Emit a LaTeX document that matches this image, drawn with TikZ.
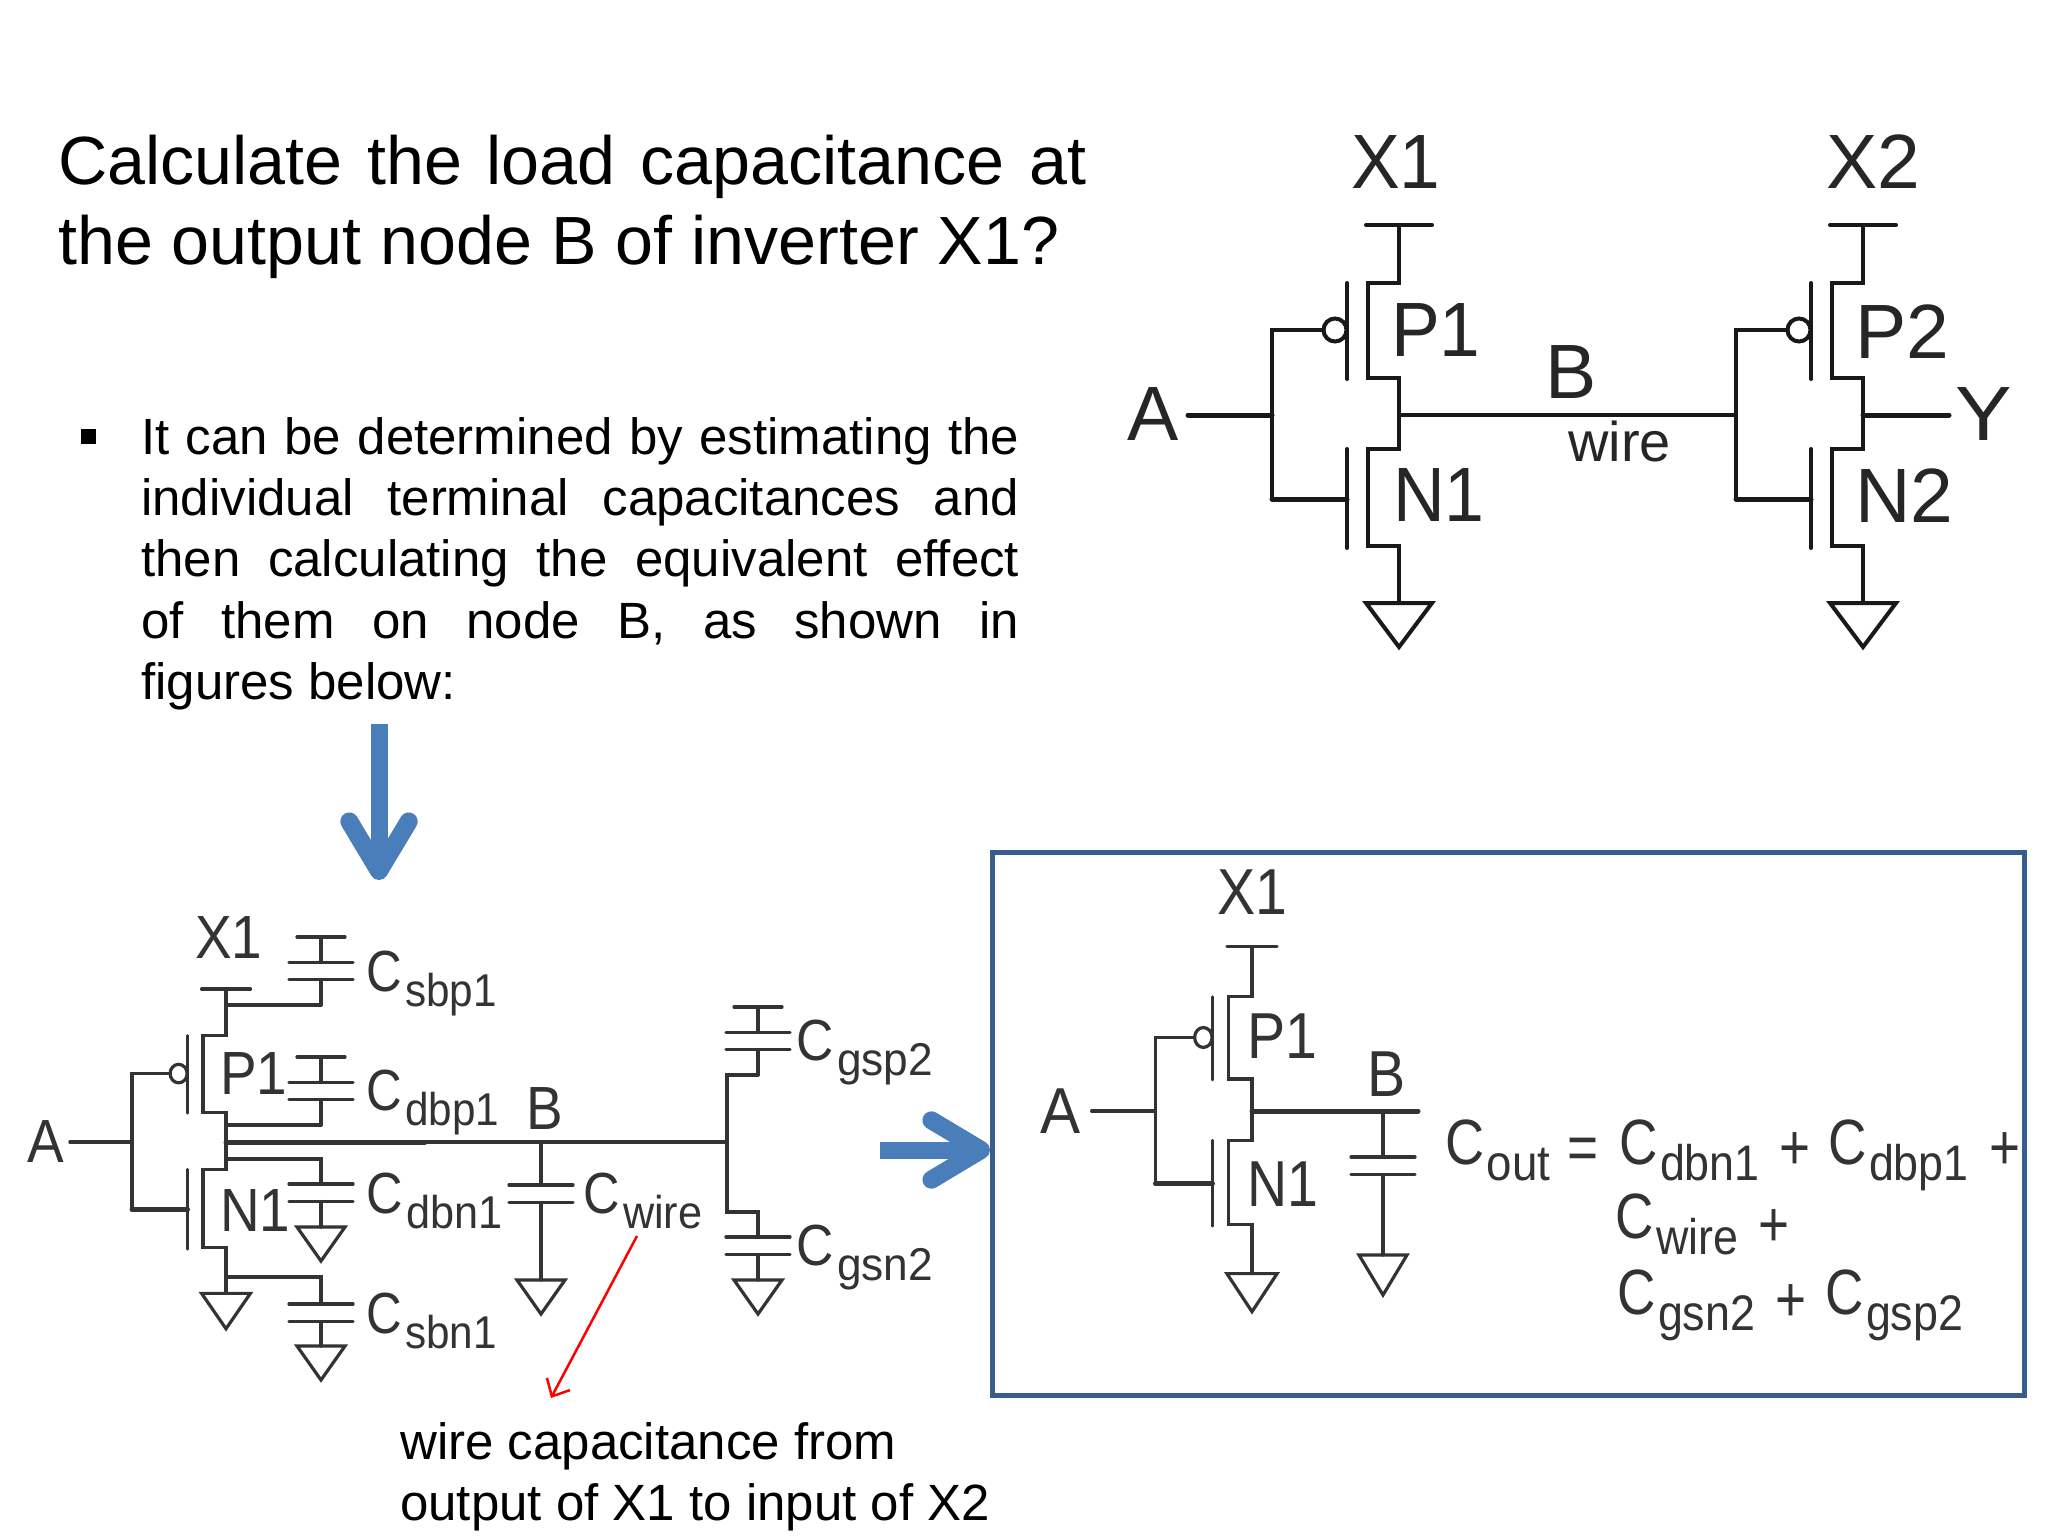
\documentclass[tikz,border=0pt]{standalone}
\usepackage{fontspec}
\setmainfont{Liberation Sans}
\usetikzlibrary{arrows.meta}
\definecolor{barblue}{HTML}{4A7EBB}
\definecolor{boxblue}{HTML}{385D8A}
\definecolor{ink}{HTML}{333333}
\def\fs#1{\fontsize{#1}{#1}\selectfont}

\begin{document}
\begin{tikzpicture}[x=1pt,y=-1pt]
\def\csub#1{\fs{58}C\kern4pt\raisebox{-15pt}{\scalebox{1.08}[1]{\fs{46}#1}}}
\def\cbox#1{\fs{64}C\kern3pt\raisebox{-16pt}{\scalebox{1.08}[1]{\fs{50}#1}}}
\tikzstyle{wire}=[draw=ink,line width=3.2pt,line cap=round,line join=miter];
\tikzstyle{thick wire}=[wire,line width=5pt];
\tikzstyle{lab}=[anchor=base west,inner sep=0pt];
\tikzstyle{bigl}=[lab,font=\fs{77},text=black!85,xscale=.95];
\tikzstyle{midl}=[lab,font=\fs{61},text=ink,xscale=.9];
\tikzstyle{boxl}=[lab,font=\fs{65},text=ink,xscale=.88];
\tikzstyle{capl}=[lab,text=ink,xscale=.85];
\tikzstyle{eql}=[lab,text=ink,xscale=.83];
\tikzstyle{para}=[anchor=north west,inner sep=0pt,align=justify];
\tikzstyle{blue}=[draw=barblue,line width=17pt,-{Straight Barb[length=49.6pt,width=59.4pt,line width=18pt,round]}];
\tikzstyle{red}=[draw=red,line width=2.5pt,-{Straight Barb[length=14pt,width=26pt]}];

% one inverter: name, output x, y, xscale, yscale
\def\inv#1#2#3#4#5{
\begin{scope}[shift={(#2,#3)},xscale=#4,yscale=#5]
\coordinate (#1o) at (0,0);
\coordinate (#1a) at (-211,0);
\coordinate (#1g) at (-127,0);
\coordinate (#1v) at (0,-190);
\coordinate (#1e) at (0,188);
\draw [wire] (-33,-190) -- (33,-190);
\draw [wire] (#1v) -- (0,-132) -- (-31,-132) -- (-31,-37) -- (0,-37) -- (#1o)
  -- (0,34) -- (-31,34) -- (-31,131) -- (0,131) -- (#1e);
\draw [wire] (-33,188) -- (33,188) -- (0,232) -- cycle;
\draw [wire] (-52,-132) -- (-52,-36);
\draw [wire] (-52,34) -- (-52,133);
\draw [wire] (-64,-85) circle (11.5);
\draw [wire] (-75.5,-85) -- (-127,-85) -- (-127,84);
\draw [thick wire] (-127,84) -- (-52,84);
\end{scope}
}
% capacitor with a top bar: name, x, y of bar
\def\capup#1#2#3{
\coordinate (#1a) at (#2,#3);
\coordinate (#1b) at (#2,#3+25.5);
\coordinate (#1c) at (#2,#3+42.5);
\coordinate (#1d) at (#2,#3+68);
\draw [wire] ([xshift=-24pt]#1a) -- ([xshift=24pt]#1a);
\draw [wire] ([xshift=-32pt]#1b) -- ([xshift=32pt]#1b);
\draw [wire] ([xshift=-32pt]#1c) -- ([xshift=32pt]#1c);
\draw [wire] (#1a) -- (#1b);
\draw [wire] (#1c) -- (#1d);
}
% capacitor to ground: name, x, y of plate, y of triangle, height of triangle
\def\capdn#1#2#3#4#5{
\coordinate (#1a) at (#2,#3);
\coordinate (#1b) at (#2,#3+17.5);
\coordinate (#1c) at (#2,#4);
\draw [wire] ([xshift=-32pt]#1a) -- ([xshift=32pt]#1a);
\draw [wire] ([xshift=-32pt]#1b) -- ([xshift=32pt]#1b);
\draw [wire] (#1b) -- (#1c);
\draw [wire] ([xshift=-24pt]#1c) -- ([xshift=24pt]#1c) -- ([yshift=-#5pt]#1c) -- cycle;
}

\path [fill=white,use as bounding box] (0,0) rectangle (2048,1536);

\node [para,text width=1028pt,font=\fontsize{68.2}{80}\selectfont] (v1) at (58,135)
  {Calculate the load capacitance at\linebreak the output node B of inverter X1?};
\node [fill=black,minimum size=15pt,inner sep=0pt] (v2) at (88.5,436) {};
\node [para,text width=878pt,font=\fontsize{51}{61.3}\selectfont] (v3) at (141,417)
  {It can be determined by estimating the\linebreak individual terminal capacitances and\linebreak
  then calculating the equivalent effect\linebreak of them on node B, as shown in\linebreak figures below:};

%%

\begin{scope}[wire/.style={draw=black!90,line width=4pt,line cap=round,line join=miter}]
\inv{x1}{1399}{415}{1}{1}
\inv{x2}{1863}{415}{1}{1}
\end{scope}
\node [bigl] (v4) at (1351,189) {X1};
\node [bigl,xscale=1.05] (v5) at (1826,189) {X2};
\node [bigl] (v6) at (1391,356) {P1};
\node [bigl,xscale=.98] (v7) at (1393,521) {N1};
\node [bigl,xscale=1.05] (v8) at (1855,358) {P2};
\node [bigl,xscale=1.05] (v9) at (1855,522) {N2};
\node [bigl,xscale=1.05] (v10) at (1127,440) {A};
\node [bigl,xscale=1.05] (v11) at (1545,398) {B};
\node [bigl,xscale=1.16] (v12) at (1955,440) {Y};
\node [lab,font=\fs{56},text=black!85] (v13) at (1568,461) {wire};
\coordinate (v14) at (1949,415);
\draw [thick wire,draw=black!90] (x1a) -- (x1g);
\draw [wire,draw=black!90,line width=4pt] (x1o) -- (x2g);
\draw [thick wire,draw=black!90] (x2o) -- (v14);

%%

\inv{x3}{226}{1142}{.74}{.805}
\node [midl] (v15) at (195,958) {X1};
\node [midl] (v16) at (220,1094) {P1};
\node [midl] (v17) at (220,1231) {N1};
\node [midl,xscale=1] (v18) at (27,1162) {A};
\node [midl] (v19) at (526,1129) {B};
\node [capl] (v20) at (366,991) {\csub{sbp1}};
\node [capl] (v21) at (366,1110) {\csub{dbp1}};
\node [capl,xscale=1.024] (v22) at (366,1213) {\csub{dbn1}};
\node [capl] (v23) at (366,1333) {\csub{sbn1}};
\node [capl,xscale=1.024] (v24) at (583,1213) {\csub{wire}};
\node [capl,xscale=1.047] (v25) at (796,1060) {\csub{gsp2}};
\node [capl,xscale=1.047] (v26) at (796,1265) {\csub{gsn2}};
\draw [wire] (x3a) -- (x3g);
\coordinate (v27) at (425,1142);
\coordinate (v28) at (727,1142);
\draw [thick wire] (x3o) -- (v27);
\draw [wire] (v27) -- (v28);

\capup{c1}{321}{937}
\coordinate (v29) at (226,1005);
\draw [wire] (c1d) -- (v29);
\capup{c2}{321}{1057}
\coordinate (v30) at (226,1125);
\draw [wire] (c2d) -- (v30);
\capdn{c3}{321}{1184}{1227}{34}
\coordinate (v31) at (226,1159);
\draw [wire] (v31) -- (v31 -| c3a) -- (c3a);
\capdn{c4}{321}{1304}{1346}{34}
\coordinate (v32) at (226,1277);
\draw [wire] (v32) -- (v32 -| c4a) -- (c4a);
\capdn{c5}{541}{1185}{1280}{34}
\coordinate (v33) at (541,1142);
\draw [wire] (v33) -- (c5a);
\capup{c6}{758}{1007}
\draw [wire] (c6d) -- (c6d -| v28) -- (v28);
\capdn{c7}{758}{1237}{1280}{34}
\coordinate (v34) at (727,1212);
\draw [wire] (v28) -- (v34) -- (v34 -| c7a) -- (c7a);

\coordinate (v35) at (637,1236);
\coordinate (v36) at (551,1398);
\draw [red] (v35) -- (v36);
\node [lab,font=\fs{51}] (v37) at (400,1459) {wire capacitance from};
\node [lab,font=\fs{51}] (v38) at (400,1520) {output of X1 to input of X2};

%%

\coordinate (v39) at (379,724);
\coordinate (v40) at (379,880);
\draw [blue] (v39) -- (v40);
\coordinate (v41) at (880,1150);
\coordinate (v42) at (990,1150);
\draw [blue] (v41) -- (v42);

%%

\draw [draw=boxblue,line width=5pt] (992,852) rectangle (2024,1395);
\inv{x4}{1252}{1111}{.76}{.865}
\node [boxl] (v43) at (1217,914) {X1};
\node [boxl] (v44) at (1247,1058) {P1};
\node [boxl,xscale=.97] (v45) at (1247,1206) {N1};
\node [boxl,xscale=1.05] (v46) at (1040,1133) {A};
\node [boxl] (v47) at (1367,1096) {B};
\coordinate (v48) at (1418,1111);
\draw [thick wire] (x4o) -- (v48);
\draw [wire] (x4a) -- (x4g);
\capdn{c8}{1383}{1157}{1255}{40}
\coordinate (v49) at (1383,1111);
\draw [wire] (v49) -- (c8a);

\node [eql,xscale=1.02] (v50) at (1445,1164) {\cbox{out}};
\node [eql,font=\fs{64}] (v51) at (1567,1169) {=};
\node [eql] (v52) at (1619,1164) {\cbox{dbn1}};
\node [eql,font=\fs{64}] (v53) at (1779,1169) {+};
\node [eql] (v54) at (1828,1164) {\cbox{dbp1}};
\node [eql,font=\fs{64}] (v55) at (1989,1169) {+};
\node [eql] (v56) at (1615,1238) {\cbox{wire}};
\node [eql,font=\fs{64}] (v57) at (1758,1246) {+};
\node [eql] (v58) at (1617,1314) {\cbox{gsn2}};
\node [eql,font=\fs{64}] (v59) at (1775,1321) {+};
\node [eql] (v60) at (1825,1314) {\cbox{gsp2}};
\end{tikzpicture}
\end{document}
